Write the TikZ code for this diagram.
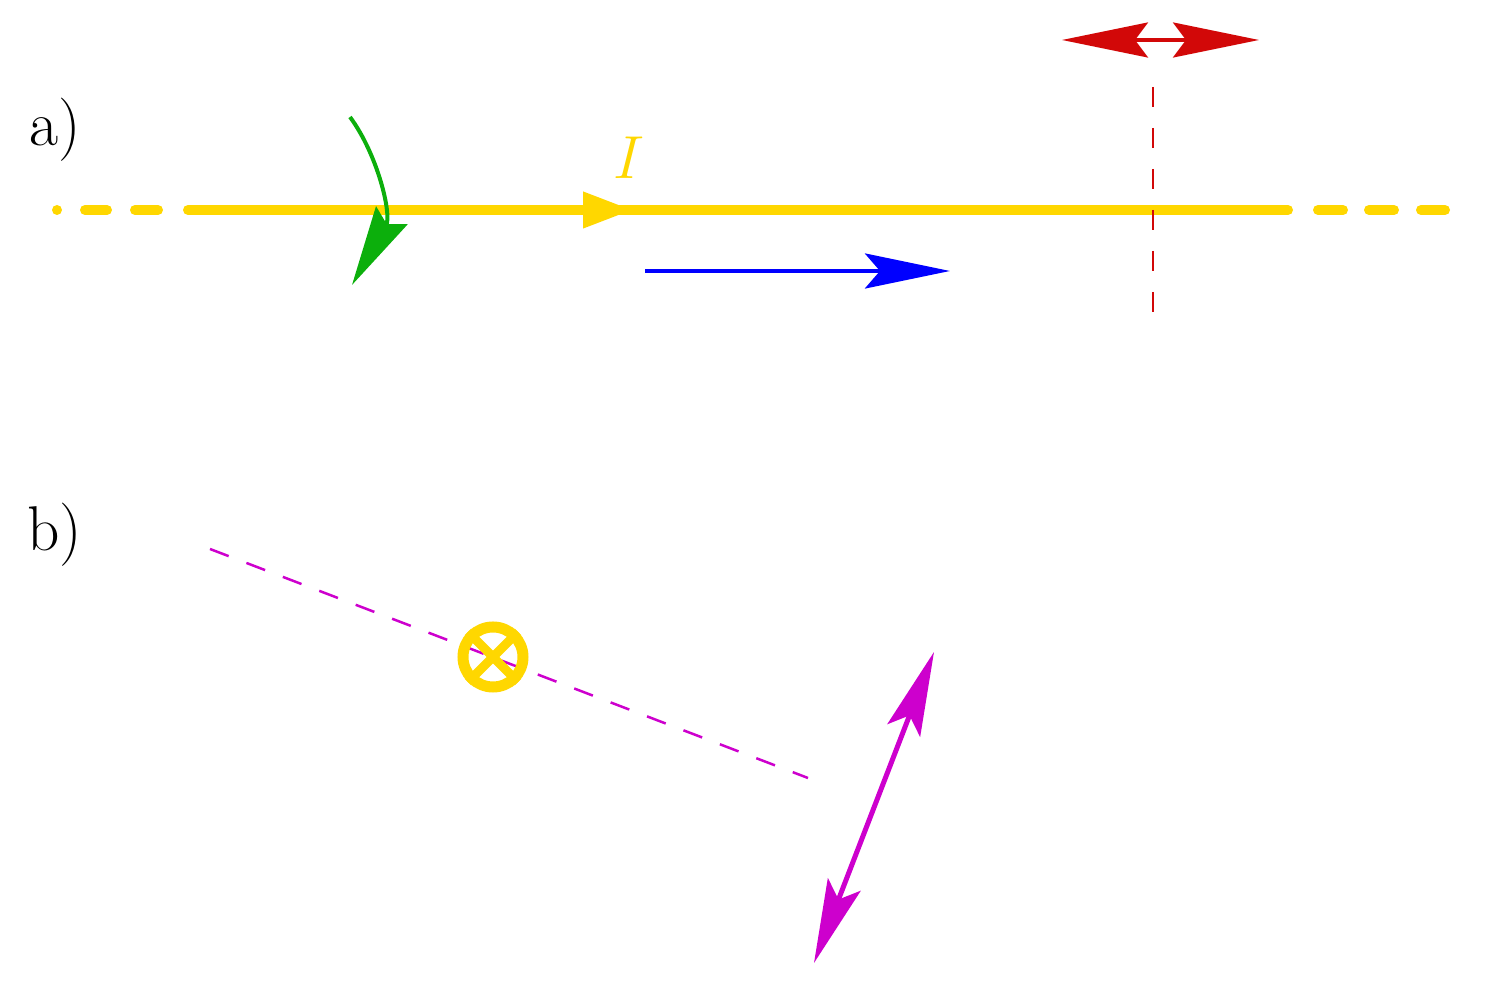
\documentclass[tikz,border=0pt]{standalone}
\usetikzlibrary{arrows.meta}
\definecolor{giallo}{RGB}{255,215,0}
\definecolor{verde}{RGB}{12,175,12}
\definecolor{rosso}{RGB}{210,8,8}
\definecolor{viola}{RGB}{205,0,205}
\begin{document}
\begin{tikzpicture}[font=\fontsize{18}{20}\selectfont]
    % Definizione stili
    \tikzstyle{current}=[giallo, line width=0.1cm, line cap=round]
    \tikzstyle{label}=[inner sep=0pt]
    \tikzstyle{rotation}=[verde, line width=0.04cm, -{Stealth[length=0.8cm, width=0.36cm, inset=0.1cm]}]
    \tikzstyle{field}=[blue, line width=0.045cm, -{Stealth[length=0.85cm, width=0.35cm, inset=0.15cm]}]
    \tikzstyle{plane}=[rosso, line width=0.025cm, dash pattern=on 0.2cm off 0.21cm]
    \tikzstyle{oscill}=[rosso, line width=0.035cm, {Stealth[length=0.86cm, width=0.35cm, inset=0.13cm]}-{Stealth[length=0.86cm, width=0.35cm, inset=0.13cm]}]
    \tikzstyle{radius}=[viola, line width=0.025cm, dash pattern=on 0.2cm off 0.19cm]
    \tikzstyle{polar}=[viola, line width=0.05cm, {Stealth[length=0.84cm, width=0.35cm, inset=0.16cm]}-{Stealth[length=0.84cm, width=0.35cm, inset=0.16cm]}]

    \useasboundingbox (0,0) rectangle (15,9.84);

    % Parte a)
    \node[label] (lab_a) at (0.55,8.54) {a)};
    \coordinate (filo_sx) at (0.57,7.74);
    \coordinate (filo_dx) at (14.45,7.74);
    \coordinate (filo_mid) at (6.33,7.74);
    \coordinate (filo_in) at (5.5,7.74);
    \draw[current, dash pattern=on 0cm off 0.28cm on 0.22cm off 0.28cm on 0.23cm off 0.30cm on 11cm off 0.30cm on 0.25cm off 0.26cm on 0.25cm off 0.27cm on 0.24cm] (filo_sx) -- (filo_dx);
    \draw[current, line cap=butt, -{Triangle[length=0.5cm, width=0.34cm]}] (filo_in) -- (filo_mid);
    \node[label, text=giallo] (lab_I) at (6.29,8.26) {$I$};

    % Freccia di rotazione
    \coordinate (rot_start) at (3.50,8.67);
    \coordinate (rot_end) at (3.52,6.99);
    \draw[rotation] (rot_start) .. controls (3.78,8.29) and (3.92,7.69) .. (rot_end);

    % Campo
    \coordinate (campo_start) at (6.45,7.13);
    \coordinate (campo_end) at (9.50,7.13);
    \draw[field] (campo_start) -- (campo_end);

    % Piano e oscillazione
    \coordinate (piano_top) at (11.53,8.97);
    \coordinate (piano_bot) at (11.53,6.71);
    \draw[plane] (piano_top) -- (piano_bot);
    \coordinate (osc_sx) at (10.62,9.44);
    \coordinate (osc_dx) at (12.59,9.44);
    \draw[oscill] (osc_sx) -- (osc_dx);

    % Parte b)
    \node[label] (lab_b) at (0.55,4.49) {b)};
    \coordinate (rag_start) at (2.10,4.35);
    \coordinate (rag_end) at (8.08,2.06);
    \draw[radius] (rag_start) -- (rag_end);

    % Corrente entrante
    \node[circle, draw=giallo, line width=0.11cm, minimum size=0.6cm, inner sep=0pt] (filo_b) at (4.93,3.27) {};
    \draw[giallo, line width=0.09cm] (filo_b.45) -- (filo_b.225);
    \draw[giallo, line width=0.09cm] (filo_b.135) -- (filo_b.315);

    % Oscillazione b)
    \coordinate (pol_bot) at (8.14,0.21);
    \coordinate (pol_top) at (9.34,3.32);
    \draw[polar] (pol_bot) -- (pol_top);
\end{tikzpicture}
\end{document}
